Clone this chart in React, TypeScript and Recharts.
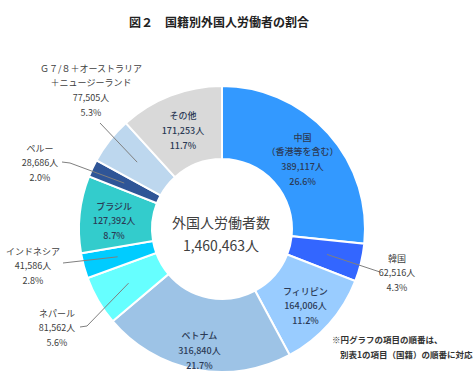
import { PieChart, Pie, Cell } from "recharts";

// 国籍別 (clockwise from 12 o'clock)
const countries = [
  "中国\n（香港等を含む）",
  "韓国",
  "フィリピン",
  "ベトナム",
  "ネパール",
  "インドネシア",
  "ブラジル",
  "ペルー",
  "Ｇ７/８＋オーストラリア\n＋ニュージーランド",
  "その他",
];
const workers = [389117, 62516, 164006, 316840, 81562, 41586, 127392, 28686, 77505, 171253];
const sliceColors = [
  "#3399FF",
  "#3366FF",
  "#99CCFF",
  "#9DC3E6",
  "#66FFFF",
  "#00CCFF",
  "#33CCCC",
  "#2F5597",
  "#BDD7EE",
  "#D9D9D9",
];

const total = workers.reduce((a, b) => a + b, 0);
const data = countries.map((name, i) => ({ name, value: workers[i] }));

// where the small slices put their labels (outside, with leader lines)
const outside: Record<number, { x: number; y: number; path: number[][] }> = {
  1: { x: 397, y: 258, path: [[380, 272]] },
  4: { x: 57, y: 313, path: [[80, 327], [87, 326]] },
  5: { x: 33, y: 251, path: [[63, 263]] },
  7: { x: 40, y: 148, path: [[62, 162], [70, 163]] },
  8: { x: 91, y: 68, path: [[100, 123]] },
};
// extra radial push for inside labels
const pushOut: Record<number, number> = { 3: 12, 2: 3 };

const RAD = Math.PI / 180;
const LINE_H = 14.8;
const fmt = (n: number) => n.toLocaleString("en-US");

const renderLabel = (props: any) => {
  const { cx, cy, midAngle, innerRadius, outerRadius, index, value } = props;
  const lines = [...countries[index].split("\n"), `${fmt(value)}人`, `${((value / total) * 100).toFixed(1)}%`];
  const spot = outside[index];
  if (spot) {
    const r = 108;
    const ex = cx + r * Math.cos(-midAngle * RAD);
    const ey = cy + r * Math.sin(-midAngle * RAD);
    const pts = [...spot.path, [ex, ey]].map((p) => p.join(",")).join(" ");
    return (
      <g key={`lbl-${index}`}>
        <polyline points={pts} fill="none" stroke="#7F7F7F" strokeWidth={1} />
        {lines.map((t, k) => (
          <text
            key={k}
            x={spot.x}
            y={spot.y + k * LINE_H}
            textAnchor="middle"
            dominantBaseline="central"
            fontSize={9}
            fill="#404040"
          >
            {t}
          </text>
        ))}
      </g>
    );
  }
  const r = (innerRadius + outerRadius) / 2 + 2 + (pushOut[index] || 0);
  const x = cx + r * Math.cos(-midAngle * RAD);
  const y = cy + r * Math.sin(-midAngle * RAD) + 3;
  const top = y - ((lines.length - 1) * LINE_H) / 2;
  return (
    <g key={`lbl-${index}`}>
      {lines.map((t, k) => (
        <text
          key={k}
          x={x}
          y={top + k * LINE_H}
          textAnchor="middle"
          dominantBaseline="central"
          fontSize={9}
          fontWeight={500}
          fill="#2B3A55"
        >
          {t}
        </text>
      ))}
    </g>
  );
};

export default function App() {
  return (
    <div
      style={{
        position: "absolute",
        left: 0,
        top: 0,
        width: 474,
        height: 379,
        background: "#fff",
        fontFamily: "'Noto Sans CJK JP', sans-serif",
      }}
    >
      <PieChart width={474} height={379} margin={{ top: 0, right: 0, bottom: 0, left: 0 }}>
        <text x={219} y={21} textAnchor="middle" dominantBaseline="central" fontSize={12} fontWeight={700} fill="#222">
          図２　国籍別外国人労働者の割合
        </text>
        <Pie
          data={data}
          dataKey="value"
          cx={222}
          cy={229}
          innerRadius={70}
          outerRadius={143}
          startAngle={90}
          endAngle={-270}
          stroke="#fff"
          strokeWidth={2}
          label={renderLabel}
          labelLine={false}
          isAnimationActive={false}
        >
          {data.map((d, i) => (
            <Cell key={d.name} fill={sliceColors[i]} />
          ))}
        </Pie>
        <text x={221} y={222} textAnchor="middle" dominantBaseline="central" fontSize={14} fill="#404040">
          外国人労働者数
        </text>
        <text x={221} y={245} textAnchor="middle" dominantBaseline="central" fontSize={14} fill="#404040">
          {`${fmt(total)}人`}
        </text>
        <text x={332} y={339} dominantBaseline="central" fontSize={8.5} fontWeight={700} fill="#333">
          ※円グラフの項目の順番は、
        </text>
        <text x={340} y={354} dominantBaseline="central" fontSize={8.5} fontWeight={700} fill="#333">
          別表1の項目（国籍）の順番に対応
        </text>
      </PieChart>
    </div>
  );
}
